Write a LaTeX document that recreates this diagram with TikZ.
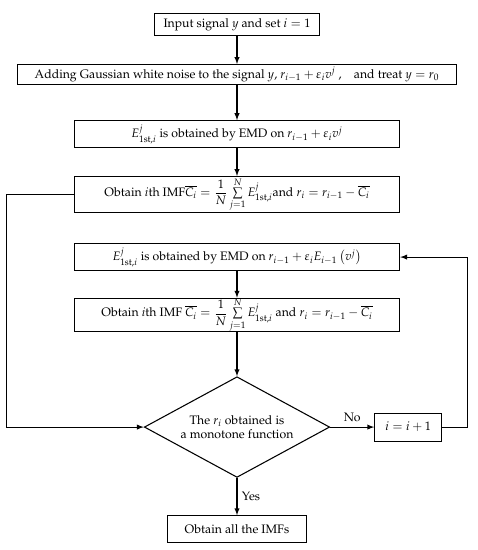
\documentclass[tikz,border=0pt]{standalone}
\usepackage[T1]{fontenc}
\usepackage{amsmath,amssymb}
\usepackage{mathpazo}
\usetikzlibrary{shapes.geometric, arrows, positioning}

\newcommand{\smallsum}{\mathop{\textstyle\sum}\limits}

\begin{document}
\begin{tikzpicture}[
      % Define compact styles
      process/.style={rectangle, draw, thick, inner sep=0pt, align=center, font=\fontsize{9.2pt}{11pt}\selectfont},
      wide/.style={minimum width=244pt},
      decision/.style={diamond, draw, thick, inner sep=0pt, aspect=1.83, minimum width=139pt, minimum height=75.5pt, align=center, font=\fontsize{9.2pt}{11pt}\selectfont},
      label/.style={font=\fontsize{9.2pt}{11pt}\selectfont},
      arrow/.style={->, >=latex, thick}
    ]

    \useasboundingbox (-177.75pt,18.4pt) rectangle (180.75pt,-394.1pt);

    % Main column
    \node[process, minimum width=123.5pt, minimum height=16.5pt] (input) at (0,0) {Input signal $y$ and set $i=1$};
    \node[process, minimum width=329pt, minimum height=15pt] (noise) at (0,-37.5pt) {Adding Gaussian white noise to the signal $y$,\ $r_{i-1}+\varepsilon_i v^j$ ,\quad and treat\ $y=r_0$};
    \node[process, wide, minimum height=20pt] (emd1) at (0,-82.1pt) {$E^j_{\mathrm{1st},i}$ is obtained by EMD on\ $r_{i-1}+\varepsilon_i v^j$};
    \node[process, wide, minimum height=27pt] (imf1) at (0,-127.5pt) {Obtain $i$th IMF$\overline{C_i}=\dfrac{1}{N}\smallsum_{j=1}^{N}E^j_{\mathrm{1st},i}$and\ $r_i=r_{i-1}-\overline{C_i}$};
    \node[process, wide, minimum height=20pt] (emd2) at (0,-174.4pt) {$E^j_{\mathrm{1st},i}$\ is obtained by EMD on $r_{i-1}+\varepsilon_i E_{i-1}\left(v^j\right)$};
    \node[process, wide, minimum height=24.5pt] (imf2) at (0,-217.9pt) {Obtain $i$th IMF $\overline{C_i}=\dfrac{1}{N}\smallsum_{j=1}^{N}E^j_{\mathrm{1st},i}$ and\ $r_i=r_{i-1}-\overline{C_i}$};
    \node[decision] (check) at (0,-301.9pt) {The\ $r_i$ obtained is\\a monotone function};
    \node[process, minimum width=104pt, minimum height=20pt] (final) at (0,-378.4pt) {Obtain all the IMFs};
    \node[process, minimum width=50pt, minimum height=21pt, right=33pt of check] (incr) {$i=i+1$};

    % Arrows
    \draw[arrow] (input) -- (noise);
    \draw[arrow] (noise) -- (emd1);
    \draw[arrow] (emd1) -- (imf1);
    \draw[arrow] (emd2) -- (imf2);
    \draw[arrow] (imf2) -- (check);
    \draw[arrow] (check) -- node[right, label] {Yes} (final);
    \draw[arrow] (check) -- node[above, label] {No} (incr);

    % Loops
    \draw[arrow] (imf1.west) -- ++(-50.25pt,0) |- (check.west);
    \draw[arrow] (incr.east) -- ++(19.5pt,0) |- (emd2.east);

  \end{tikzpicture}
\end{document}
